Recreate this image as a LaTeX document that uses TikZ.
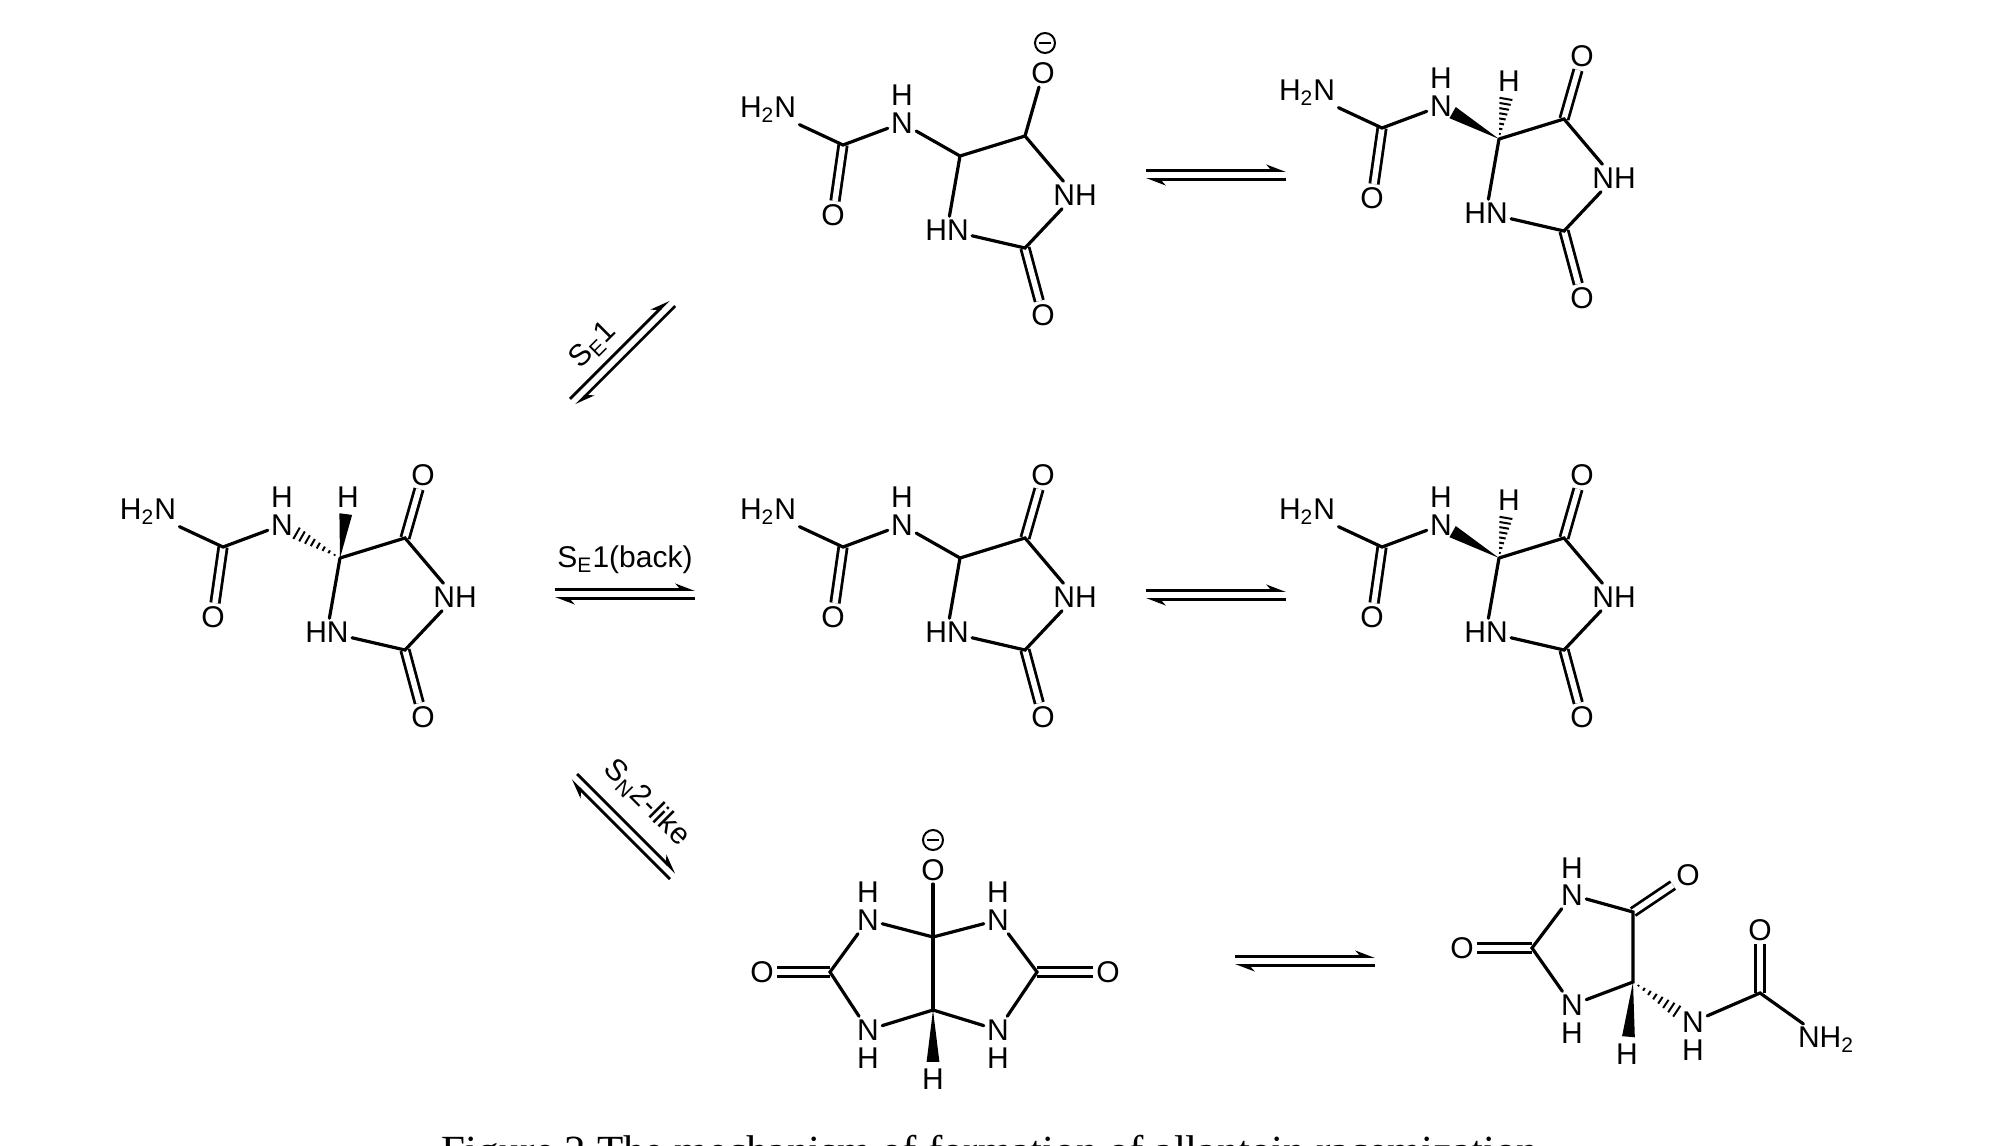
\documentclass[tikz,border=0pt]{standalone}
\usepackage{fontspec}
\setmainfont{Liberation Sans}
\newfontfamily\capfont{Liberation Serif}
\usetikzlibrary{calc,arrows.meta}
\tikzset{
 bond/.style={line width=1.6pt,line cap=round},
 dbl/.style={line width=1.4pt, double, double distance=2.8pt},
 atom/.style={inner sep=1.5pt, font=\fontsize{15pt}{18pt}\selectfont},
 lab/.style={inner sep=0pt, font=\fontsize{15pt}{18pt}\selectfont},
 harp/.style={line width=1.4pt, -{Stealth[harpoon,length=8pt,width=6pt]}},
}
\newcommand\wedgeb[3]{\coordinate (wE) at ($(#1)!#3!(#2)$);
 \fill (#1) -- ($(wE)!3.2pt!90:(#1)$) -- ($(wE)!3.2pt!-90:(#1)$) -- cycle;}
\newcommand\hashb[3]{\coordinate (hE) at ($(#1)!#3!(#2)$);
 \foreach \t in {0.12,0.24,0.36,0.48,0.6,0.72,0.84,0.96}{
  \pgfmathsetmacro\hd{\t*3.4}
  \draw[line width=1pt] ($(#1)!\t!(hE)!\hd pt!90:(hE)$) -- ($(#1)!\t!(hE)!\hd pt!-90:(hE)$);}}
\newcommand\minuscharge[1]{\draw[line width=1pt] (#1) circle[radius=5pt];
 \draw[line width=1pt] ($(#1)+(-6,0)$) -- ($(#1)+(6,0)$);}
\newcommand\eqarr[2]{%
 \draw[harp] ($(#1)!2.2pt!90:(#2)$) -- ($(#2)!2.2pt!-90:(#1)$);
 \draw[harp] ($(#2)!2.2pt!90:(#1)$) -- ($(#1)!2.2pt!-90:(#2)$);}
\newcommand\allmol[4]{%
\begin{scope}[shift={(#2,#3)}]
 \node[atom] (#1h2n) at (148,512) {H\textsubscript{2}N};
 \coordinate (#1c1) at (223,547);
 \node[atom] (#1o1) at (213,617) {O};
 \node[atom] (#1n1) at (282,525) {N};
 \node[lab] (#1hn1) at (282,497) {H};
 \coordinate (#1c2) at (340,558);
 \coordinate (#1c3) at (405,538);
 \node[atom] (#1o3) at (423,475) {O};
 \node[atom] (#1n2) at (455,597) {NH};
 \coordinate (#1c4) at (405,650);
 \node[atom] (#1o4) at (423,717) {O};
 \node[atom] (#1n3) at (327,632) {HN};
 \draw[dbl] (#1c1) -- (#1o1);
 \draw[dbl] (#1c4) -- (#1o4);
 \ifnum#4=3 \draw[bond] (#1c3) -- (#1o3); \minuscharge{425,445}\else\draw[dbl] (#1c3) -- (#1o3);\fi
 \draw[bond] (#1h2n) -- (#1c1) -- (#1n1);
 \draw[bond] (#1c2) -- (#1c3) -- (#1n2) -- (#1c4) -- (#1n3) -- (#1c2);
 \ifcase#4
   \node[lab] (#1hc) at (348,497) {H};
   \hashb{#1c2}{#1n1}{0.78}
   \wedgeb{#1c2}{#1hc}{0.72}
 \or \draw[bond] (#1n1) -- (#1c2);
 \or \node[lab] (#1hc) at (350,500) {H};
   \wedgeb{#1c2}{#1n1}{0.8}
   \hashb{#1c2}{#1hc}{0.72}
 \or \draw[bond] (#1n1) -- (#1c2);
 \fi
\end{scope}}
\begin{document}
\begin{tikzpicture}[x=0.5pt,y=-0.5pt]
\useasboundingbox (0,0) rectangle (1990,1145);
\clip (0,0) rectangle (1990,1145);
\allmol{L}{0}{0}{0}
\allmol{M}{620}{0}{1}
\allmol{R}{1159}{0}{2}
\allmol{T}{620}{-402}{3}
\allmol{U}{1159}{-419}{2}
% bottom middle
\node[atom] (bo) at (933,870) {O};
\minuscharge{933,840}
\coordinate (bc1) at (933,937);
\coordinate (bc2) at (933,1010);
\node[atom] (bn1) at (868,920) {N}; \node[lab] (bh1) at (868,892) {H};
\node[atom] (bn2) at (868,1030) {N}; \node[lab] (bh2) at (868,1058) {H};
\node[atom] (bn3) at (998,920) {N}; \node[lab] (bh3) at (998,892) {H};
\node[atom] (bn4) at (998,1030) {N}; \node[lab] (bh4) at (998,1058) {H};
\coordinate (bcl) at (830,972); \node[atom] (bol) at (762,972) {O};
\coordinate (bcr) at (1037,972); \node[atom] (bor) at (1108,972) {O};
\node[lab] (bhc) at (933,1079) {H};
\draw[dbl] (bcl) -- (bol);
\draw[dbl] (bcr) -- (bor);
\draw[bond] (bo) -- (bc1) -- (bc2);
\draw[bond] (bn1) -- (bc1) -- (bn3);
\draw[bond] (bn2) -- (bc2) -- (bn4);
\draw[bond] (bn1) -- (bcl) -- (bn2);
\draw[bond] (bn3) -- (bcr) -- (bn4);
\wedgeb{bc2}{bhc}{0.75}
% bottom right
\node[atom] (rn1) at (1572,895) {N}; \node[lab] (rh1) at (1572,868) {H};
\coordinate (rct) at (1633,912); \node[atom] (rot) at (1688,875) {O};
\coordinate (rcl) at (1532,948); \node[atom] (rol) at (1462,948) {O};
\node[atom] (rn2) at (1572,1005) {N}; \node[lab] (rh2) at (1572,1033) {H};
\coordinate (rcs) at (1633,982);
\node[lab] (rhs) at (1627,1054) {H};
\node[atom] (rn3) at (1693,1022) {N}; \node[lab] (rh3) at (1693,1050) {H};
\coordinate (rcu) at (1760,993); \node[atom] (rou) at (1760,930) {O};
\node[atom] (rnh2) at (1826,1040) {NH\textsubscript{2}};
\draw[dbl] (rct) -- (rot);
\draw[dbl] (rcl) -- (rol);
\draw[dbl] (rcu) -- (rou);
\draw[bond] (rn1) -- (rct) -- (rcs) -- (rn2) -- (rcl) -- (rn1);
\draw[bond] (rn3) -- (rcu) -- (rnh2);
\hashb{rcs}{rn3}{0.76}
\wedgeb{rcs}{rhs}{0.76}
% arrows
\coordinate (a1s) at (573,402); \coordinate (a1e) at (672,303);
\coordinate (a2s) at (555,594); \coordinate (a2e) at (695,594);
\coordinate (a3s) at (673,876); \coordinate (a3e) at (574,777);
\coordinate (a4s) at (1146,175); \coordinate (a4e) at (1286,175);
\coordinate (a5s) at (1146,595); \coordinate (a5e) at (1286,595);
\coordinate (a6s) at (1235,961); \coordinate (a6e) at (1375,961);
\eqarr{a1s}{a1e}
\eqarr{a2s}{a2e}
\eqarr{a3s}{a3e}
\eqarr{a4s}{a4e}
\eqarr{a5s}{a5e}
\eqarr{a6s}{a6e}
\node[lab, rotate=45] (se1) at (593,345) {S\textsubscript{E}1};
\node[lab] (se1b) at (625,560) {S\textsubscript{E}1(back)};
\node[lab, rotate=-45] (sn2) at (647,803) {S\textsubscript{N}2-like};
\node[font=\capfont\fontsize{21.5pt}{25pt}\selectfont, anchor=base] (cap) at (990,1165) {Figure 2 The mechanism of formation of allantoin racemization};
\end{tikzpicture}
\end{document}
